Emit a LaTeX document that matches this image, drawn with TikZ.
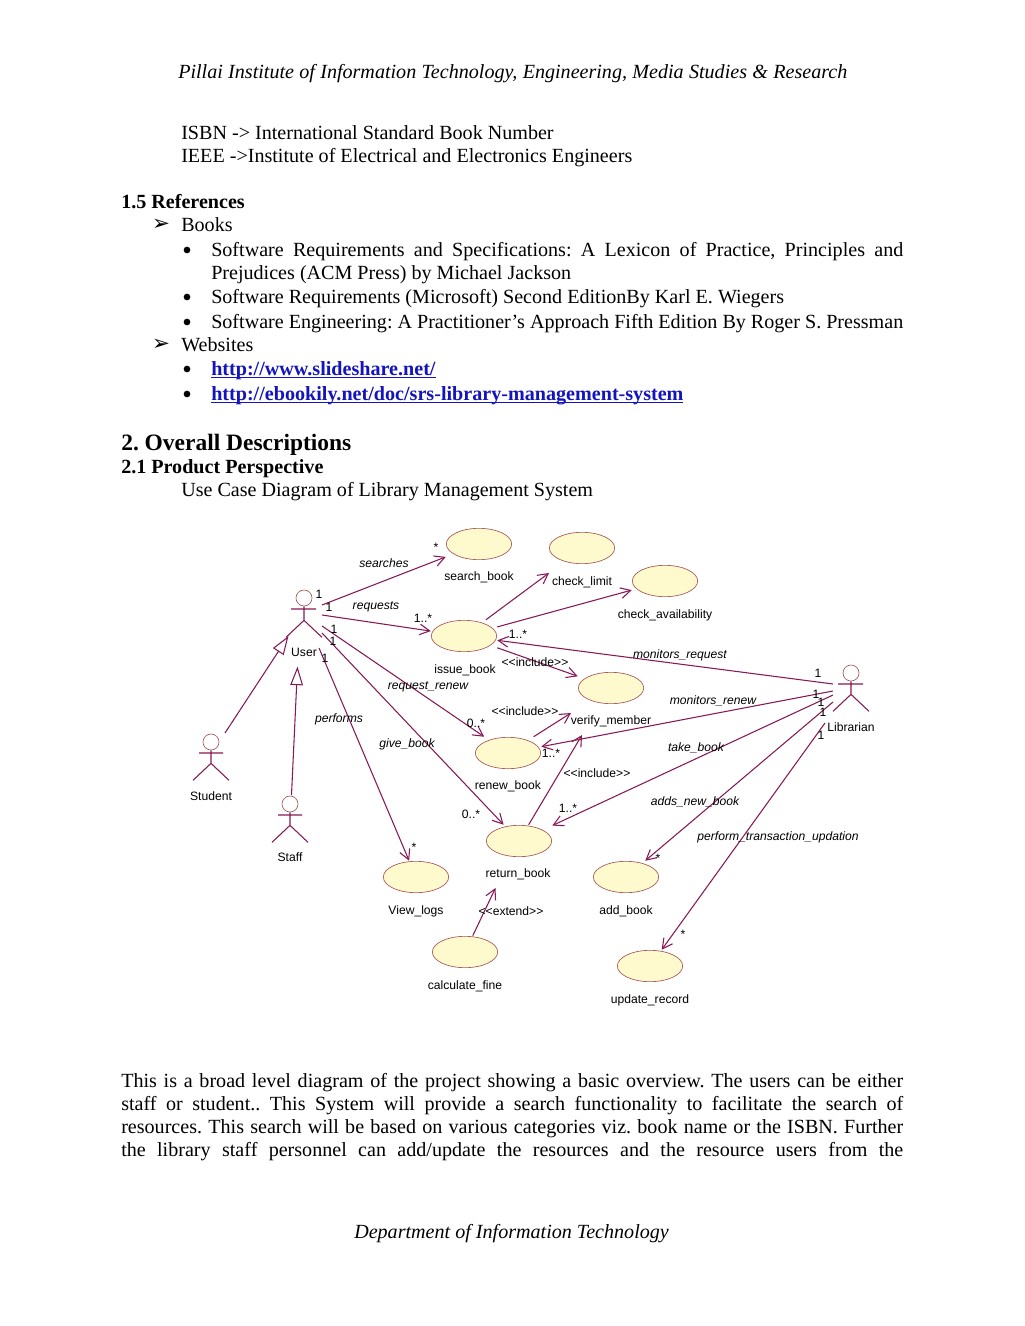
\documentclass[tikz,border=0pt]{standalone}
\usepackage{fontspec}
\setmainfont{Liberation Serif}
\setsansfont{Liberation Sans}
\newfontfamily\arrowfont{DejaVu Sans}
\usetikzlibrary{arrows.meta, positioning}
\definecolor{assoccol}{RGB}{135,25,85}
\definecolor{ovalline}{RGB}{165,90,85}
\definecolor{ovalfill}{RGB}{255,250,205}
\definecolor{linkcol}{RGB}{20,20,190}
\frenchspacing
\newcommand{\justline}[1]{\hbox to 586.5pt{#1}}
\newcommand{\itemline}[1]{\hbox to 519pt{#1}}
\newcommand{\linktext}[1]{\setbox0\hbox{#1}\hbox{\copy0\kern-\wd0\rule[-1.7pt]{\wd0}{0.9pt}}}

\begin{document}
\begin{tikzpicture}[x=0.75pt,y=-0.75pt]
	\tikzstyle{pagetext} = [anchor=base west, inner sep=0pt, yshift=-0.75pt, font=\fontsize{15.07}{18}\selectfont]
	\tikzstyle{pagehead} = [pagetext, font=\fontsize{15.07}{18}\selectfont\bfseries]
	\tikzstyle{pagelink} = [pagetext, text=linkcol, font=\fontsize{15.09}{18}\selectfont\bfseries]
	\tikzstyle{bulletdot} = [circle, fill=black, inner sep=0pt, minimum size=5pt]
	\tikzstyle{arrowitem} = [inner sep=0pt, font=\arrowfont\fontsize{16}{18}\selectfont]
	\tikzstyle{usecase} = [rectangle, inner sep=0pt, minimum width=49.5pt, minimum height=24pt, path picture={\draw[ovalline, fill=ovalfill, line width=0.5pt] (path picture bounding box.center) ellipse (24.5pt and 11.75pt);}]
	\tikzstyle{uctext} = [inner sep=0pt, text height=8pt, text depth=2pt, font=\sffamily\fontsize{9.1}{11}\selectfont]
	\tikzstyle{roletext} = [uctext, font=\sffamily\itshape\fontsize{9.1}{11}\selectfont]
	\tikzstyle{multtext} = [uctext]
	\tikzstyle{actorhead} = [circle, draw=ovalline, line width=0.5pt, inner sep=0pt, minimum size=12pt]
	\tikzstyle{actorline} = [draw=assoccol, line width=0.8pt]
	\tikzstyle{assoc} = [assoccol, line width=0.8pt, -{Straight Barb[length=7.5pt,width=8pt]}]
	\tikzstyle{genline} = [assoccol, line width=0.8pt, -{Triangle[open,length=14pt,width=9.5pt]}]
	\useasboundingbox (0,0) rectangle (1024,1326);

	\node (pageheader) [pagetext, font=\fontsize{15.07}{18}\selectfont\itshape] at (178,78) {\hbox to 501.75pt{Pillai Institute of Information Technology, Engineering, Media Studies \& Research}};
	\node (isbn) [pagetext] at (181,139) {ISBN -> International Standard Book Number};
	\node (ieee) [pagetext] at (181,162) {IEEE ->Institute of Electrical and Electronics Engineers};
	\node (refshead) [pagehead] at (121,208) {1.5 References};
	\node (booksarrow) [arrowitem] at (161,225) {➢};
	\node (books) [pagetext] at (181,231) {Books};
	\node (dot1) [bulletdot] at (187,250) {};
	\node (book1a) [pagetext] at (211,256) {\itemline{Software Requirements and Specifications: A Lexicon of Practice, Principles and}};
	\node (book1b) [pagetext] at (211,279) {Prejudices (ACM Press) by Michael Jackson};
	\node (dot2) [bulletdot] at (187,297) {};
	\node (book2) [pagetext] at (211,303) {Software Requirements (Microsoft) Second EditionBy Karl E. Wiegers};
	\node (dot3) [bulletdot] at (187,322) {};
	\node (book3) [pagetext] at (211,328) {\itemline{Software Engineering: A Practitioner’s Approach Fifth Edition By Roger S. Pressman}};
	\node (websarrow) [arrowitem] at (161,345) {➢};
	\node (webs) [pagetext] at (181,351) {Websites};
	\node (dot4) [bulletdot] at (187,369) {};
	\node (link1) [pagelink] at (211,375) {\linktext{http://www.slideshare.net/}};
	\node (dot5) [bulletdot] at (187,394) {};
	\node (link2) [pagelink] at (211,400) {\linktext{http://ebookily.net/doc/srs-library-management-system}};
	\node (overall) [pagehead, font=\fontsize{17.6}{20}\selectfont\bfseries] at (121,449) {2. Overall Descriptions};
	\node (perspective) [pagehead] at (121,472) {2.1 Product Perspective};
	\node (caption) [pagetext] at (181,495) {Use Case Diagram of Library Management System};

	\node (searchbook) [usecase] at (479,544) {};
	\node (checklimit) [usecase] at (582,548) {};
	\node (checkavail) [usecase] at (665,581) {};
	\node (issuebook) [usecase] at (464,636) {};
	\node (verifymember) [usecase] at (611,688) {};
	\node (renewbook) [usecase] at (508,753) {};
	\node (returnbook) [usecase] at (519,841) {};
	\node (viewlogs) [usecase] at (416,877) {};
	\node (addbook) [usecase] at (626,877) {};
	\node (calcfine) [usecase] at (465,952) {};
	\node (updaterecord) [usecase] at (650,966) {};

	\node (searchtxt) [uctext] at (479,576) {search\_book};
	\node (limittxt) [uctext] at (582,581) {check\_limit};
	\node (availtxt) [uctext] at (665,614) {check\_availability};
	\node (issuetxt) [uctext] at (465,669) {issue\_book};
	\node (verifytxt) [uctext] at (611,720) {verify\_member};
	\node (renewtxt) [uctext] at (508,785) {renew\_book};
	\node (returntxt) [uctext] at (518,873) {return\_book};
	\node (logstxt) [uctext] at (416,910) {View\_logs};
	\node (addtxt) [uctext] at (626,910) {add\_book};
	\node (finetxt) [uctext] at (465,985) {calculate\_fine};
	\node (updatetxt) [uctext] at (650,999) {update\_record};

	\node (userhead) [actorhead] at (304,598) {};
	\draw[actorline] (userhead.south) -- ++(0,14) -- ++(-18,17) ++(18,-17) -- ++(18,17) (291,609) -- (316,609);
	\node (usertxt) [uctext] at (304,652) {User};
	\node (studenthead) [actorhead] at (211,742) {};
	\draw[actorline] (studenthead.south) -- ++(0,13) -- ++(-18,17) ++(18,-17) -- ++(18,17) (199,753) -- (223,753);
	\node (studenttxt) [uctext] at (211,796) {Student};
	\node (staffhead) [actorhead] at (290,804) {};
	\draw[actorline] (staffhead.south) -- ++(0,13) -- ++(-18,17) ++(18,-17) -- ++(18,17) (278,815) -- (302,815);
	\node (stafftxt) [uctext] at (290,857) {Staff};
	\node (libhead) [actorhead] at (851,673) {};
	\draw[actorline] (libhead.south) -- ++(0,13) -- ++(-18,17) ++(18,-17) -- ++(18,17) (838,684) -- (863,684);
	\node (libtxt) [uctext] at (851,727) {Librarian};

	\coordinate (userA) at (322,605);
	\coordinate (userB) at (322,615);
	\coordinate (userC) at (322,626);
	\coordinate (userD) at (322,633);
	\coordinate (userE) at (319,648);
	\coordinate (libA) at (833,684);
	\coordinate (libB) at (833,691);
	\coordinate (libC) at (833,695);
	\coordinate (libD) at (833,702);
	\coordinate (libE) at (825,723);
	\coordinate (limittip) at (549,573);
	\coordinate (verifytipA) at (571,713);
	\coordinate (verifytipB) at (582,735);
	\coordinate (returntip) at (495.5,888);
	\coordinate (studentend) at (225,733);
	\coordinate (studenttip) at (288.5,636);
	\coordinate (staffend) at (291.5,795);
	\coordinate (stafftip) at (297.5,666.5);

	\draw[genline] (studentend) -- (studenttip);
	\draw[genline] (staffend) -- (stafftip);
	\draw[assoc] (userA) -- (searchbook);
	\draw[assoc] (userB) -- (issuebook);
	\draw[assoc] (userC) -- (renewbook);
	\draw[assoc] (userD) -- (returnbook);
	\draw[assoc] (userE) -- (viewlogs);
	\draw[assoc] (libA) -- (issuebook);
	\draw[assoc] (libB) -- (renewbook);
	\draw[assoc] (libC) -- (returnbook);
	\draw[assoc] (libD) -- (addbook);
	\draw[assoc] (libE) -- (updaterecord);
	\draw[assoc] (issuebook) -- (limittip);
	\draw[assoc] (issuebook) -- (checkavail);
	\draw[assoc] (issuebook) -- (verifymember);
	\draw[assoc] (renewbook) -- (verifytipA);
	\draw[assoc] (returnbook) -- (verifytipB);
	\draw[assoc] (calcfine) -- (returntip);

	\node (searches) [roletext] at (384,563) {searches};
	\node (requests) [roletext] at (376,605) {requests};
	\node (monrequest) [roletext] at (680,654) {monitors\_request};
	\node (reqrenew) [roletext] at (428,685) {request\_renew};
	\node (monrenew) [roletext] at (713,700) {monitors\_renew};
	\node (performs) [roletext] at (339,718) {performs};
	\node (givebook) [roletext] at (407,743) {give\_book};
	\node (takebook) [roletext] at (696,747) {take\_book};
	\node (addsnew) [roletext] at (695,801) {adds\_new\_book};
	\node (performupd) [roletext] at (778,836) {perform\_transaction\_updation};

	\node (inclA) [uctext] at (535,662) {<{}<include>{}>};
	\node (inclB) [uctext] at (525,711) {<{}<include>{}>};
	\node (inclC) [uctext] at (597,773) {<{}<include>{}>};
	\node (extendtxt) [uctext] at (511,911) {<{}<extend>{}>};

	\node (multA) [multtext] at (436,547) {*};
	\node (multB) [multtext] at (319,594) {1};
	\node (multC) [multtext] at (329,607) {1};
	\node (multD) [multtext] at (423,618) {1..*};
	\node (multE) [multtext] at (334,629) {1};
	\node (multF) [multtext] at (333,641) {1};
	\node (multG) [multtext] at (325,658) {1};
	\node (multH) [multtext] at (476,723) {0..*};
	\node (multI) [multtext] at (518,634) {1..*};
	\node (multJ) [multtext] at (818,673) {1};
	\node (multK) [multtext] at (816,694) {1};
	\node (multL) [multtext] at (821,702) {1};
	\node (multM) [multtext] at (823,712) {1};
	\node (multN) [multtext] at (821,735) {1};
	\node (multO) [multtext] at (551,753) {1..*};
	\node (multP) [multtext] at (471,814) {0..*};
	\node (multQ) [multtext] at (568,808) {1..*};
	\node (multR) [multtext] at (414,847) {*};
	\node (multS) [multtext] at (658,858) {*};
	\node (multT) [multtext] at (683,934) {*};

	\node (para1) [pagetext] at (121,1086) {\justline{This is a broad level diagram of the project showing a basic overview. The users can be either}};
	\node (para2) [pagetext] at (121,1109) {\justline{staff or student.. This System will provide a search functionality to facilitate the search of}};
	\node (para3) [pagetext] at (121,1132) {\justline{resources. This search will be based on various categories viz. book name or the ISBN. Further}};
	\node (para4) [pagetext] at (121,1155) {\justline{the library staff personnel can add/update the resources and the resource users from the}};
	\node (pagefooter) [pagetext, font=\fontsize{15.07}{18}\selectfont\itshape] at (354,1237) {Department of Information Technology};
\end{tikzpicture}
\end{document}
